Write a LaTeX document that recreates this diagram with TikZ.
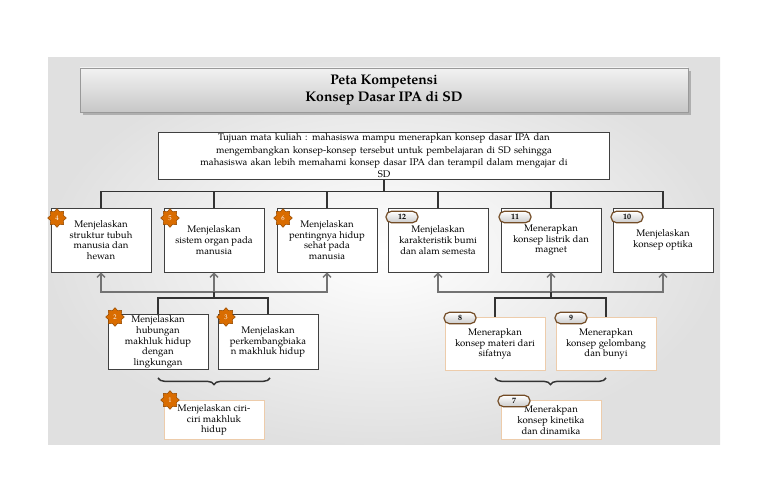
\documentclass[tikz,border=0pt]{standalone}
\usepackage{fontspec}
\setmainfont{TeX Gyre Pagella}
\usetikzlibrary{shapes.geometric,arrows.meta,decorations.pathreplacing,shadows}
\begin{document}
\begin{tikzpicture}[x=0.0264cm,y=-0.0264cm,
 box/.style={draw=black!75,fill=white,line width=0.7pt,align=center,font=\fontsize{7.2}{8}\selectfont,inner sep=1pt},
 lbox/.style={draw=orange!30!brown!40,fill=white,line width=0.5pt,align=center,font=\fontsize{7.2}{8}\selectfont,inner sep=1pt},
 badge/.style={star,star points=8,star point ratio=1.35,fill=orange!85!black,draw=orange!60!black,minimum size=14pt,inner sep=0pt,font=\fontsize{5}{5}\selectfont\color{white}},
 pill/.style={rounded corners=4pt,draw=brown!60!black,line width=0.9pt,top color=white,bottom color=black!20,minimum width=24pt,minimum height=8.5pt,inner sep=0pt,font=\fontsize{6}{6}\selectfont\bfseries},
 ln/.style={line width=1.3pt,black!80},
 ar/.style={line width=1pt,black!55,-{Straight Barb[length=3pt]}},
 br/.style={decorate,decoration={brace,amplitude=5pt,mirror},line width=1.1pt,black!80}]
\useasboundingbox (0,0) rectangle (768,503);
\fill[white] (0,0) rectangle (768,503);
\shade[inner color=white,outer color=black!12] (48,58) rectangle (720,445);
\node[draw=black!40,top color=black!5,bottom color=black!22,minimum width=608*0.0264cm,minimum height=44*0.0264cm,align=center,font=\bfseries\fontsize{10.5}{12.5}\selectfont,drop shadow] (title) at (384,90) {Peta Kompetensi\\Konsep Dasar IPA di SD};
\node[box,text width=448*0.0264cm,minimum height=44*0.0264cm,font=\fontsize{7.2}{9.3}\selectfont] (goal) at (384,156) {Tujuan mata kuliah : mahasiswa mampu menerapkan konsep dasar IPA dan\\mengembangkan konsep-konsep tersebut untuk pembelajaran di SD sehingga\\mahasiswa akan lebih memahami konsep dasar IPA dan terampil dalam mengajar di\\SD};
\coordinate (bus) at (384,192);
\foreach \n/\x/\t in {b4/101/{Menjelaskan\\struktur tubuh\\manusia dan\\hewan},b5/214/{Menjelaskan\\sistem organ pada\\manusia},b6/327/{Menjelaskan\\pentingnya hidup\\sehat pada\\manusia},b12/438/{Menjelaskan\\karakteristik bumi\\dan alam semesta},b11/551/{Menerapkan\\konsep listrik dan\\magnet},b10/663/{Menjelaskan\\konsep optika}}
 \node[box,minimum width=100*0.0264cm,minimum height=64*0.0264cm] (\n) at (\x,240) {\t};
\draw[ln] (goal.south) -- (bus);
\draw[ln] (b4.north) -- ++(0,-16) -| (b10.north);
\foreach \n in {b5,b6,b12,b11} \draw[ln] (\n.north) -- ++(0,-16);
\node[box,minimum width=100*0.0264cm,minimum height=55*0.0264cm] (b2) at (158,342) {Menjelaskan\\hubungan\\makhluk hidup\\dengan\\lingkungan};
\node[box,minimum width=100*0.0264cm,minimum height=55*0.0264cm] (b3) at (268,342) {Menjelaskan\\perkembangbiaka\\n makhluk hidup};
\node[lbox,minimum width=100*0.0264cm,minimum height=53*0.0264cm] (b8) at (495,344) {Menerapkan\\konsep materi dari\\sifatnya};
\node[lbox,minimum width=100*0.0264cm,minimum height=53*0.0264cm] (b9) at (606,344) {Menerapkan\\konsep gelombang\\dan bunyi};
\node[lbox,minimum width=100*0.0264cm,minimum height=39*0.0264cm] (b1) at (214,420) {Menjelaskan ciri-\\ciri makhluk\\hidup};
\node[lbox,minimum width=100*0.0264cm,minimum height=39*0.0264cm] (b7) at (551,420) {Menerakpan\\konsep kinetika\\dan dinamika};
\coordinate (lj) at (214,292);
\draw[ar] (lj) -| (b4.south);
\draw[ar] (lj) -| (b6.south);
\draw[ar] (lj) -- (b5.south);
\draw[ln] (lj) -- (214,298) -| (b2.north);
\draw[ln] (214,298) -| (b3.north);
\coordinate (rj) at (551,292);
\draw[ar] (rj) -| (b12.south);
\draw[ar] (rj) -| (b10.south);
\draw[ar] (rj) -- (b11.south);
\draw[ln] (rj) -- (551,298) -| (b8.north);
\draw[ln] (551,298) -| (b9.north);
\draw[br] (158,378) -- (270,378);
\draw[br] (495,378) -- (606,378);
\foreach \x/\y/\t in {57/218/4,170/218/5,283/218/6,115/317/2,226/317/3,170/400/1}
 \node[badge] at (\x,\y) {\t};
\foreach \x/\y/\t in {402/217/12,515/217/11,627/217/10,460/318/8,571/318/9,514/401/7}
 \node[pill] at (\x,\y) {\t};
\end{tikzpicture}
\end{document}
